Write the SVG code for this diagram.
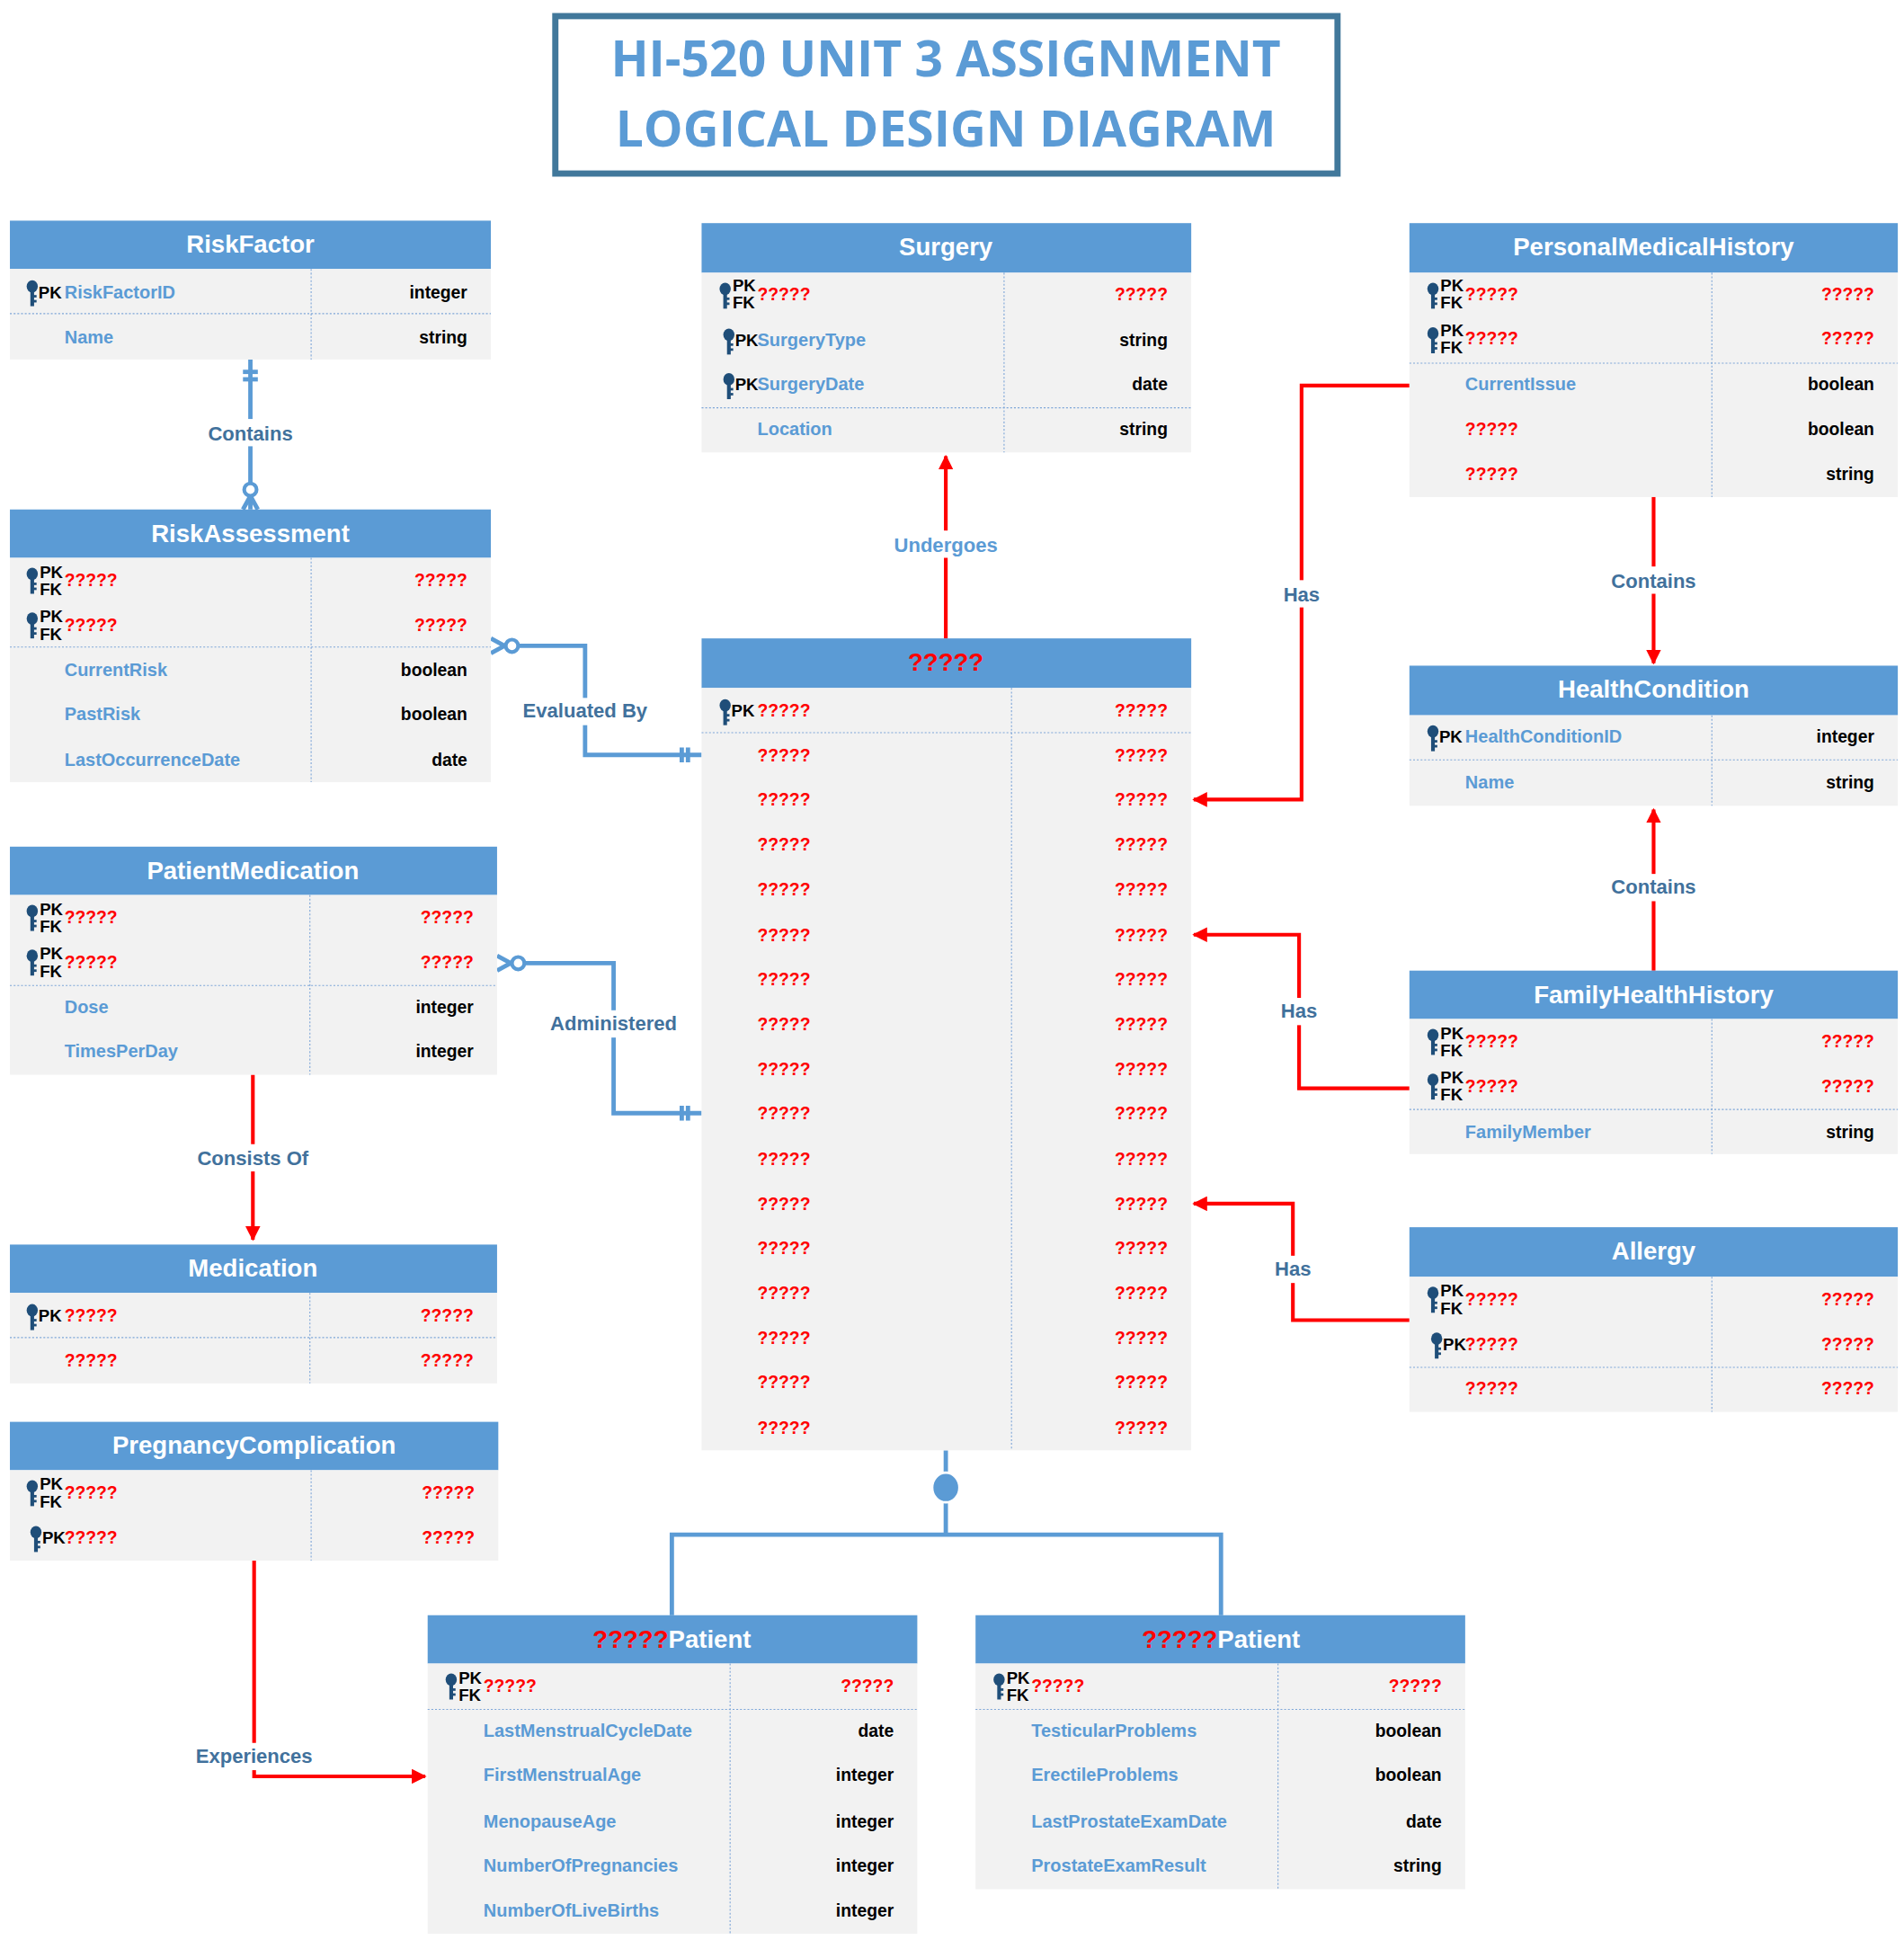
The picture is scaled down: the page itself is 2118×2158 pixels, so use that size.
<svg xmlns="http://www.w3.org/2000/svg" xmlns:xlink="http://www.w3.org/1999/xlink" width="2118" height="2158" viewBox="0 0 2118 2158">
<style>
text{font-family:"Liberation Sans",Arial,sans-serif;font-weight:bold}
.hd{fill:#5b9bd5}
.bd{fill:#f2f2f2}
.ht{fill:#fff;font-size:20px;text-anchor:middle}
.k{fill:#000;font-size:13.5px}
.fn{fill:#5b9bd5;font-size:14.5px}
.q{fill:#ff0000;font-size:14px}
.ty{fill:#000;font-size:14px;text-anchor:end}
.tq{fill:#ff0000;font-size:14px;text-anchor:end}
.sep{stroke:#7ea6d8;stroke-width:0.8;stroke-dasharray:1.5,1.5;fill:none}
.bl{stroke:#5b9bd5;stroke-width:3.5;fill:none}
.rd{stroke:#ff0000;stroke-width:3;fill:none}
.lb{font-size:16px;text-anchor:middle;fill:#41719c}
.lb2{font-size:16px;text-anchor:middle;fill:#5b9bd5}
</style>
<defs>
<symbol id="key" viewBox="0 0 10 22" width="10" height="22" overflow="visible">
<g fill="#1f4e79"><ellipse cx="5" cy="5" rx="4.5" ry="5"/><rect x="3.5" y="8" width="3" height="13"/><rect x="6" y="12" width="2.5" height="2"/><rect x="6" y="16" width="2.5" height="2"/></g>
</symbol>
<marker id="ar" viewBox="0 0 10 10" refX="9" refY="5" markerWidth="4" markerHeight="4" orient="auto" markerUnits="strokeWidth"><path d="M0,0L10,5L0,10Z" fill="#ff0000"/></marker>
</defs>
<rect width="2118" height="2158" fill="#fff"/>
<g transform="scale(1.37891)">
<g id="title">
<rect x="448" y="13" width="631" height="127" fill="#fff" stroke="#41789b" stroke-width="5"/>
<text x="763" y="62" style="font-family:'Open Sans','Liberation Sans',sans-serif;font-size:40px;fill:#5b9bd5;text-anchor:middle">HI-520 UNIT 3 ASSIGNMENT</text>
<text x="763" y="118" style="font-family:'Open Sans','Liberation Sans',sans-serif;font-size:40px;fill:#5b9bd5;text-anchor:middle">LOGICAL DESIGN DIAGRAM</text>
</g>

<g id="connectors">
<line class="bl" x1="202" y1="290" x2="202" y2="411"/>
<line class="bl" x1="196" y1="300" x2="208" y2="300"/><line class="bl" x1="196" y1="306" x2="208" y2="306"/>
<circle cx="202" cy="395" r="5" fill="#fff" stroke="#5b9bd5" stroke-width="3"/>
<path class="bl" d="M202,400L196,411M202,400L208,411"/>
<rect x="158" y="338" width="88" height="22" fill="#fff"/>
<text class="lb" x="202" y="355">Contains</text>
<path class="bl" d="M413,521H472V609H566"/>
<path class="bl" d="M407,521L396,515M407,521L396,527"/>
<circle cx="413" cy="521" r="5" fill="#fff" stroke="#5b9bd5" stroke-width="3"/>
<line class="bl" x1="550" y1="603" x2="550" y2="615"/><line class="bl" x1="555" y1="603" x2="555" y2="615"/>
<rect x="412" y="563" width="120" height="22" fill="#fff"/>
<text class="lb" x="472" y="579">Evaluated By</text>
<path class="bl" d="M418,777H495V898H566"/>
<path class="bl" d="M412,777L401,771M412,777L401,783"/>
<circle cx="418" cy="777" r="5" fill="#fff" stroke="#5b9bd5" stroke-width="3"/>
<line class="bl" x1="550" y1="892" x2="550" y2="904"/><line class="bl" x1="555" y1="892" x2="555" y2="904"/>
<rect x="435" y="815" width="120" height="22" fill="#fff"/>
<text class="lb" x="495" y="831">Administered</text>
<line class="rd" x1="204" y1="867" x2="204" y2="1000" marker-end="url(#ar)"/>
<rect x="148" y="923" width="112" height="22" fill="#fff"/>
<text class="lb" x="204" y="940">Consists Of</text>
<path class="rd" d="M205,1258V1433H343" marker-end="url(#ar)"/>
<rect x="148" y="1406" width="114" height="22" fill="#fff"/>
<text class="lb" x="205" y="1422">Experiences</text>
<line class="rd" x1="763" y1="515" x2="763" y2="368" marker-end="url(#ar)"/>
<rect x="713" y="428" width="100" height="22" fill="#fff"/>
<text class="lb2" x="763" y="445">Undergoes</text>
<path class="rd" d="M1137,311H1050V645H963" marker-end="url(#ar)"/>
<rect x="1030" y="468" width="40" height="22" fill="#fff"/>
<text class="lb" x="1050" y="485">Has</text>
<line class="rd" x1="1334" y1="400" x2="1334" y2="535" marker-end="url(#ar)"/>
<rect x="1290" y="457" width="88" height="22" fill="#fff"/>
<text class="lb" x="1334" y="474">Contains</text>
<line class="rd" x1="1334" y1="783" x2="1334" y2="653" marker-end="url(#ar)"/>
<rect x="1290" y="705" width="88" height="22" fill="#fff"/>
<text class="lb" x="1334" y="721">Contains</text>
<path class="rd" d="M1137,878H1048V754H963" marker-end="url(#ar)"/>
<rect x="1028" y="805" width="40" height="22" fill="#fff"/>
<text class="lb" x="1048" y="821">Has</text>
<path class="rd" d="M1137,1065H1043V971H963" marker-end="url(#ar)"/>
<rect x="1023" y="1013" width="40" height="22" fill="#fff"/>
<text class="lb" x="1043" y="1029">Has</text>
<line class="bl" x1="763" y1="1170" x2="763" y2="1238"/>
<ellipse cx="763" cy="1200" rx="11" ry="12" fill="#5b9bd5" stroke="#fff" stroke-width="2"/>
<path class="bl" d="M542,1303V1238H985V1303"/>
</g>

<g id="RiskFactor">
<rect class="hd" x="8" y="178" width="388" height="39"/><text class="ht" x="202" y="204">RiskFactor</text>
<rect class="bd" x="8" y="217" width="388" height="73"/>
<line class="sep" x1="8" y1="253" x2="396" y2="253"/><line class="sep" x1="251" y1="217" x2="251" y2="290"/>
<use href="#key" x="21" y="226"/><text class="k" x="31" y="241">PK</text><text class="fn" x="52" y="241">RiskFactorID</text><text class="ty" x="377" y="241">integer</text>
<text class="fn" x="52" y="277">Name</text><text class="ty" x="377" y="277">string</text>
</g>

<g id="RiskAssessment">
<rect class="hd" x="8" y="411" width="388" height="39"/><text class="ht" x="202" y="437">RiskAssessment</text>
<rect class="bd" x="8" y="450" width="388" height="181"/>
<line class="sep" x1="8" y1="522" x2="396" y2="522"/><line class="sep" x1="251" y1="450" x2="251" y2="631"/>
<use href="#key" x="21" y="458"/><text class="k" x="32" y="466">PK</text><text class="k" x="32" y="480">FK</text><text class="q" x="52" y="473">?????</text><text class="tq" x="377" y="473">?????</text>
<use href="#key" x="21" y="494"/><text class="k" x="32" y="502">PK</text><text class="k" x="32" y="516">FK</text><text class="q" x="52" y="509">?????</text><text class="tq" x="377" y="509">?????</text>
<text class="fn" x="52" y="545">CurrentRisk</text><text class="ty" x="377" y="545">boolean</text>
<text class="fn" x="52" y="581">PastRisk</text><text class="ty" x="377" y="581">boolean</text>
<text class="fn" x="52" y="618">LastOccurrenceDate</text><text class="ty" x="377" y="618">date</text>
</g>

<g id="PatientMedication">
<rect class="hd" x="8" y="683" width="393" height="39"/><text class="ht" x="204" y="709">PatientMedication</text>
<rect class="bd" x="8" y="722" width="393" height="145"/>
<line class="sep" x1="8" y1="795" x2="401" y2="795"/><line class="sep" x1="250" y1="722" x2="250" y2="867"/>
<use href="#key" x="21" y="730"/><text class="k" x="32" y="738">PK</text><text class="k" x="32" y="752">FK</text><text class="q" x="52" y="745">?????</text><text class="tq" x="382" y="745">?????</text>
<use href="#key" x="21" y="766"/><text class="k" x="32" y="774">PK</text><text class="k" x="32" y="788">FK</text><text class="q" x="52" y="781">?????</text><text class="tq" x="382" y="781">?????</text>
<text class="fn" x="52" y="817">Dose</text><text class="ty" x="382" y="817">integer</text>
<text class="fn" x="52" y="853">TimesPerDay</text><text class="ty" x="382" y="853">integer</text>
</g>

<g id="Medication">
<rect class="hd" x="8" y="1004" width="393" height="39"/><text class="ht" x="204" y="1030">Medication</text>
<rect class="bd" x="8" y="1043" width="393" height="73"/>
<line class="sep" x1="8" y1="1079" x2="401" y2="1079"/><line class="sep" x1="250" y1="1043" x2="250" y2="1116"/>
<use href="#key" x="21" y="1052"/><text class="k" x="31" y="1066">PK</text><text class="q" x="52" y="1066">?????</text><text class="tq" x="382" y="1066">?????</text>
<text class="q" x="52" y="1102">?????</text><text class="tq" x="382" y="1102">?????</text>
</g>

<g id="PregnancyComplication">
<rect class="hd" x="8" y="1147" width="394" height="39"/><text class="ht" x="205" y="1173">PregnancyComplication</text>
<rect class="bd" x="8" y="1186" width="394" height="73"/>
<line class="sep" x1="251" y1="1186" x2="251" y2="1259"/>
<use href="#key" x="21" y="1194"/><text class="k" x="32" y="1202">PK</text><text class="k" x="32" y="1216">FK</text><text class="q" x="52" y="1209">?????</text><text class="tq" x="383" y="1209">?????</text>
<use href="#key" x="24" y="1231"/><text class="k" x="34" y="1245">PK</text><text class="q" x="52" y="1245">?????</text><text class="tq" x="383" y="1245">?????</text>
</g>

<g id="Surgery">
<rect class="hd" x="566" y="180" width="395" height="40"/><text class="ht" x="763" y="206">Surgery</text>
<rect class="bd" x="566" y="220" width="395" height="145"/>
<line class="sep" x1="566" y1="329" x2="961" y2="329"/><line class="sep" x1="810" y1="220" x2="810" y2="365"/>
<use href="#key" x="580" y="228"/><text class="k" x="591" y="235">PK</text><text class="k" x="591" y="249">FK</text><text class="q" x="611" y="242">?????</text><text class="tq" x="942" y="242">?????</text>
<use href="#key" x="583" y="265"/><text class="k" x="593" y="279">PK</text><text class="fn" x="611" y="279">SurgeryType</text><text class="ty" x="942" y="279">string</text>
<use href="#key" x="583" y="301"/><text class="k" x="593" y="315">PK</text><text class="fn" x="611" y="315">SurgeryDate</text><text class="ty" x="942" y="315">date</text>
<text class="fn" x="611" y="351">Location</text><text class="ty" x="942" y="351">string</text>
</g>

<g id="Patient">
<rect class="hd" x="566" y="515" width="395" height="40"/><text class="ht" x="763" y="541" style="fill:#ff0000">?????</text>
<rect class="bd" x="566" y="555" width="395" height="615"/>
<line class="sep" x1="566" y1="591" x2="961" y2="591"/><line class="sep" x1="816" y1="555" x2="816" y2="1170"/>
<use href="#key" x="580" y="564"/><text class="k" x="590" y="578">PK</text><text class="q" x="611" y="578">?????</text><text class="tq" x="942" y="578">?????</text>
<text class="q" x="611" y="614">?????</text><text class="tq" x="942" y="614">?????</text>
<text class="q" x="611" y="650">?????</text><text class="tq" x="942" y="650">?????</text>
<text class="q" x="611" y="686">?????</text><text class="tq" x="942" y="686">?????</text>
<text class="q" x="611" y="722">?????</text><text class="tq" x="942" y="722">?????</text>
<text class="q" x="611" y="759">?????</text><text class="tq" x="942" y="759">?????</text>
<text class="q" x="611" y="795">?????</text><text class="tq" x="942" y="795">?????</text>
<text class="q" x="611" y="831">?????</text><text class="tq" x="942" y="831">?????</text>
<text class="q" x="611" y="867">?????</text><text class="tq" x="942" y="867">?????</text>
<text class="q" x="611" y="903">?????</text><text class="tq" x="942" y="903">?????</text>
<text class="q" x="611" y="940">?????</text><text class="tq" x="942" y="940">?????</text>
<text class="q" x="611" y="976">?????</text><text class="tq" x="942" y="976">?????</text>
<text class="q" x="611" y="1012">?????</text><text class="tq" x="942" y="1012">?????</text>
<text class="q" x="611" y="1048">?????</text><text class="tq" x="942" y="1048">?????</text>
<text class="q" x="611" y="1084">?????</text><text class="tq" x="942" y="1084">?????</text>
<text class="q" x="611" y="1120">?????</text><text class="tq" x="942" y="1120">?????</text>
<text class="q" x="611" y="1157">?????</text><text class="tq" x="942" y="1157">?????</text>
</g>

<g id="PersonalMedicalHistory">
<rect class="hd" x="1137" y="180" width="394" height="40"/><text class="ht" x="1334" y="206">PersonalMedicalHistory</text>
<rect class="bd" x="1137" y="220" width="394" height="181"/>
<line class="sep" x1="1137" y1="293" x2="1531" y2="293"/><line class="sep" x1="1381" y1="220" x2="1381" y2="401"/>
<use href="#key" x="1151" y="228"/><text class="k" x="1162" y="235">PK</text><text class="k" x="1162" y="249">FK</text><text class="q" x="1182" y="242">?????</text><text class="tq" x="1512" y="242">?????</text>
<use href="#key" x="1151" y="264"/><text class="k" x="1162" y="271">PK</text><text class="k" x="1162" y="285">FK</text><text class="q" x="1182" y="278">?????</text><text class="tq" x="1512" y="278">?????</text>
<text class="fn" x="1182" y="315">CurrentIssue</text><text class="ty" x="1512" y="315">boolean</text>
<text class="q" x="1182" y="351">?????</text><text class="ty" x="1512" y="351">boolean</text>
<text class="q" x="1182" y="387">?????</text><text class="ty" x="1512" y="387">string</text>
</g>

<g id="HealthCondition">
<rect class="hd" x="1137" y="537" width="394" height="40"/><text class="ht" x="1334" y="563">HealthCondition</text>
<rect class="bd" x="1137" y="577" width="394" height="73"/>
<line class="sep" x1="1137" y1="613" x2="1531" y2="613"/><line class="sep" x1="1381" y1="577" x2="1381" y2="650"/>
<use href="#key" x="1151" y="585"/><text class="k" x="1161" y="599">PK</text><text class="fn" x="1182" y="599">HealthConditionID</text><text class="ty" x="1512" y="599">integer</text>
<text class="fn" x="1182" y="636">Name</text><text class="ty" x="1512" y="636">string</text>
</g>

<g id="FamilyHealthHistory">
<rect class="hd" x="1137" y="783" width="394" height="39"/><text class="ht" x="1334" y="809">FamilyHealthHistory</text>
<rect class="bd" x="1137" y="822" width="394" height="109"/>
<line class="sep" x1="1137" y1="895" x2="1531" y2="895"/><line class="sep" x1="1381" y1="822" x2="1381" y2="931"/>
<use href="#key" x="1151" y="830"/><text class="k" x="1162" y="838">PK</text><text class="k" x="1162" y="852">FK</text><text class="q" x="1182" y="845">?????</text><text class="tq" x="1512" y="845">?????</text>
<use href="#key" x="1151" y="866"/><text class="k" x="1162" y="874">PK</text><text class="k" x="1162" y="888">FK</text><text class="q" x="1182" y="881">?????</text><text class="tq" x="1512" y="881">?????</text>
<text class="fn" x="1182" y="918">FamilyMember</text><text class="ty" x="1512" y="918">string</text>
</g>

<g id="Allergy">
<rect class="hd" x="1137" y="990" width="394" height="40"/><text class="ht" x="1334" y="1016">Allergy</text>
<rect class="bd" x="1137" y="1030" width="394" height="109"/>
<line class="sep" x1="1137" y1="1103" x2="1531" y2="1103"/><line class="sep" x1="1381" y1="1030" x2="1381" y2="1139"/>
<use href="#key" x="1151" y="1038"/><text class="k" x="1162" y="1046">PK</text><text class="k" x="1162" y="1060">FK</text><text class="q" x="1182" y="1053">?????</text><text class="tq" x="1512" y="1053">?????</text>
<use href="#key" x="1154" y="1075"/><text class="k" x="1164" y="1089">PK</text><text class="q" x="1182" y="1089">?????</text><text class="tq" x="1512" y="1089">?????</text>
<text class="q" x="1182" y="1125">?????</text><text class="tq" x="1512" y="1125">?????</text>
</g>

<g id="FemalePatient">
<rect class="hd" x="345" y="1303" width="395" height="39"/><text class="ht" x="542" y="1329"><tspan style="fill:#ff0000">?????</tspan>Patient</text>
<rect class="bd" x="345" y="1342" width="395" height="218"/>
<line class="sep" x1="345" y1="1379" x2="740" y2="1379"/><line class="sep" x1="589" y1="1342" x2="589" y2="1560"/>
<use href="#key" x="359" y="1350"/><text class="k" x="370" y="1358">PK</text><text class="k" x="370" y="1372">FK</text><text class="q" x="390" y="1365">?????</text><text class="tq" x="721" y="1365">?????</text>
<text class="fn" x="390" y="1401">LastMenstrualCycleDate</text><text class="ty" x="721" y="1401">date</text>
<text class="fn" x="390" y="1437">FirstMenstrualAge</text><text class="ty" x="721" y="1437">integer</text>
<text class="fn" x="390" y="1474">MenopauseAge</text><text class="ty" x="721" y="1474">integer</text>
<text class="fn" x="390" y="1510">NumberOfPregnancies</text><text class="ty" x="721" y="1510">integer</text>
<text class="fn" x="390" y="1546">NumberOfLiveBirths</text><text class="ty" x="721" y="1546">integer</text>
</g>

<g id="MalePatient">
<rect class="hd" x="787" y="1303" width="395" height="39"/><text class="ht" x="985" y="1329"><tspan style="fill:#ff0000">?????</tspan>Patient</text>
<rect class="bd" x="787" y="1342" width="395" height="182"/>
<line class="sep" x1="787" y1="1379" x2="1182" y2="1379"/><line class="sep" x1="1031" y1="1342" x2="1031" y2="1524"/>
<use href="#key" x="801" y="1350"/><text class="k" x="812" y="1358">PK</text><text class="k" x="812" y="1372">FK</text><text class="q" x="832" y="1365">?????</text><text class="tq" x="1163" y="1365">?????</text>
<text class="fn" x="832" y="1401">TesticularProblems</text><text class="ty" x="1163" y="1401">boolean</text>
<text class="fn" x="832" y="1437">ErectileProblems</text><text class="ty" x="1163" y="1437">boolean</text>
<text class="fn" x="832" y="1474">LastProstateExamDate</text><text class="ty" x="1163" y="1474">date</text>
<text class="fn" x="832" y="1510">ProstateExamResult</text><text class="ty" x="1163" y="1510">string</text>
</g>
</g>
</svg>
